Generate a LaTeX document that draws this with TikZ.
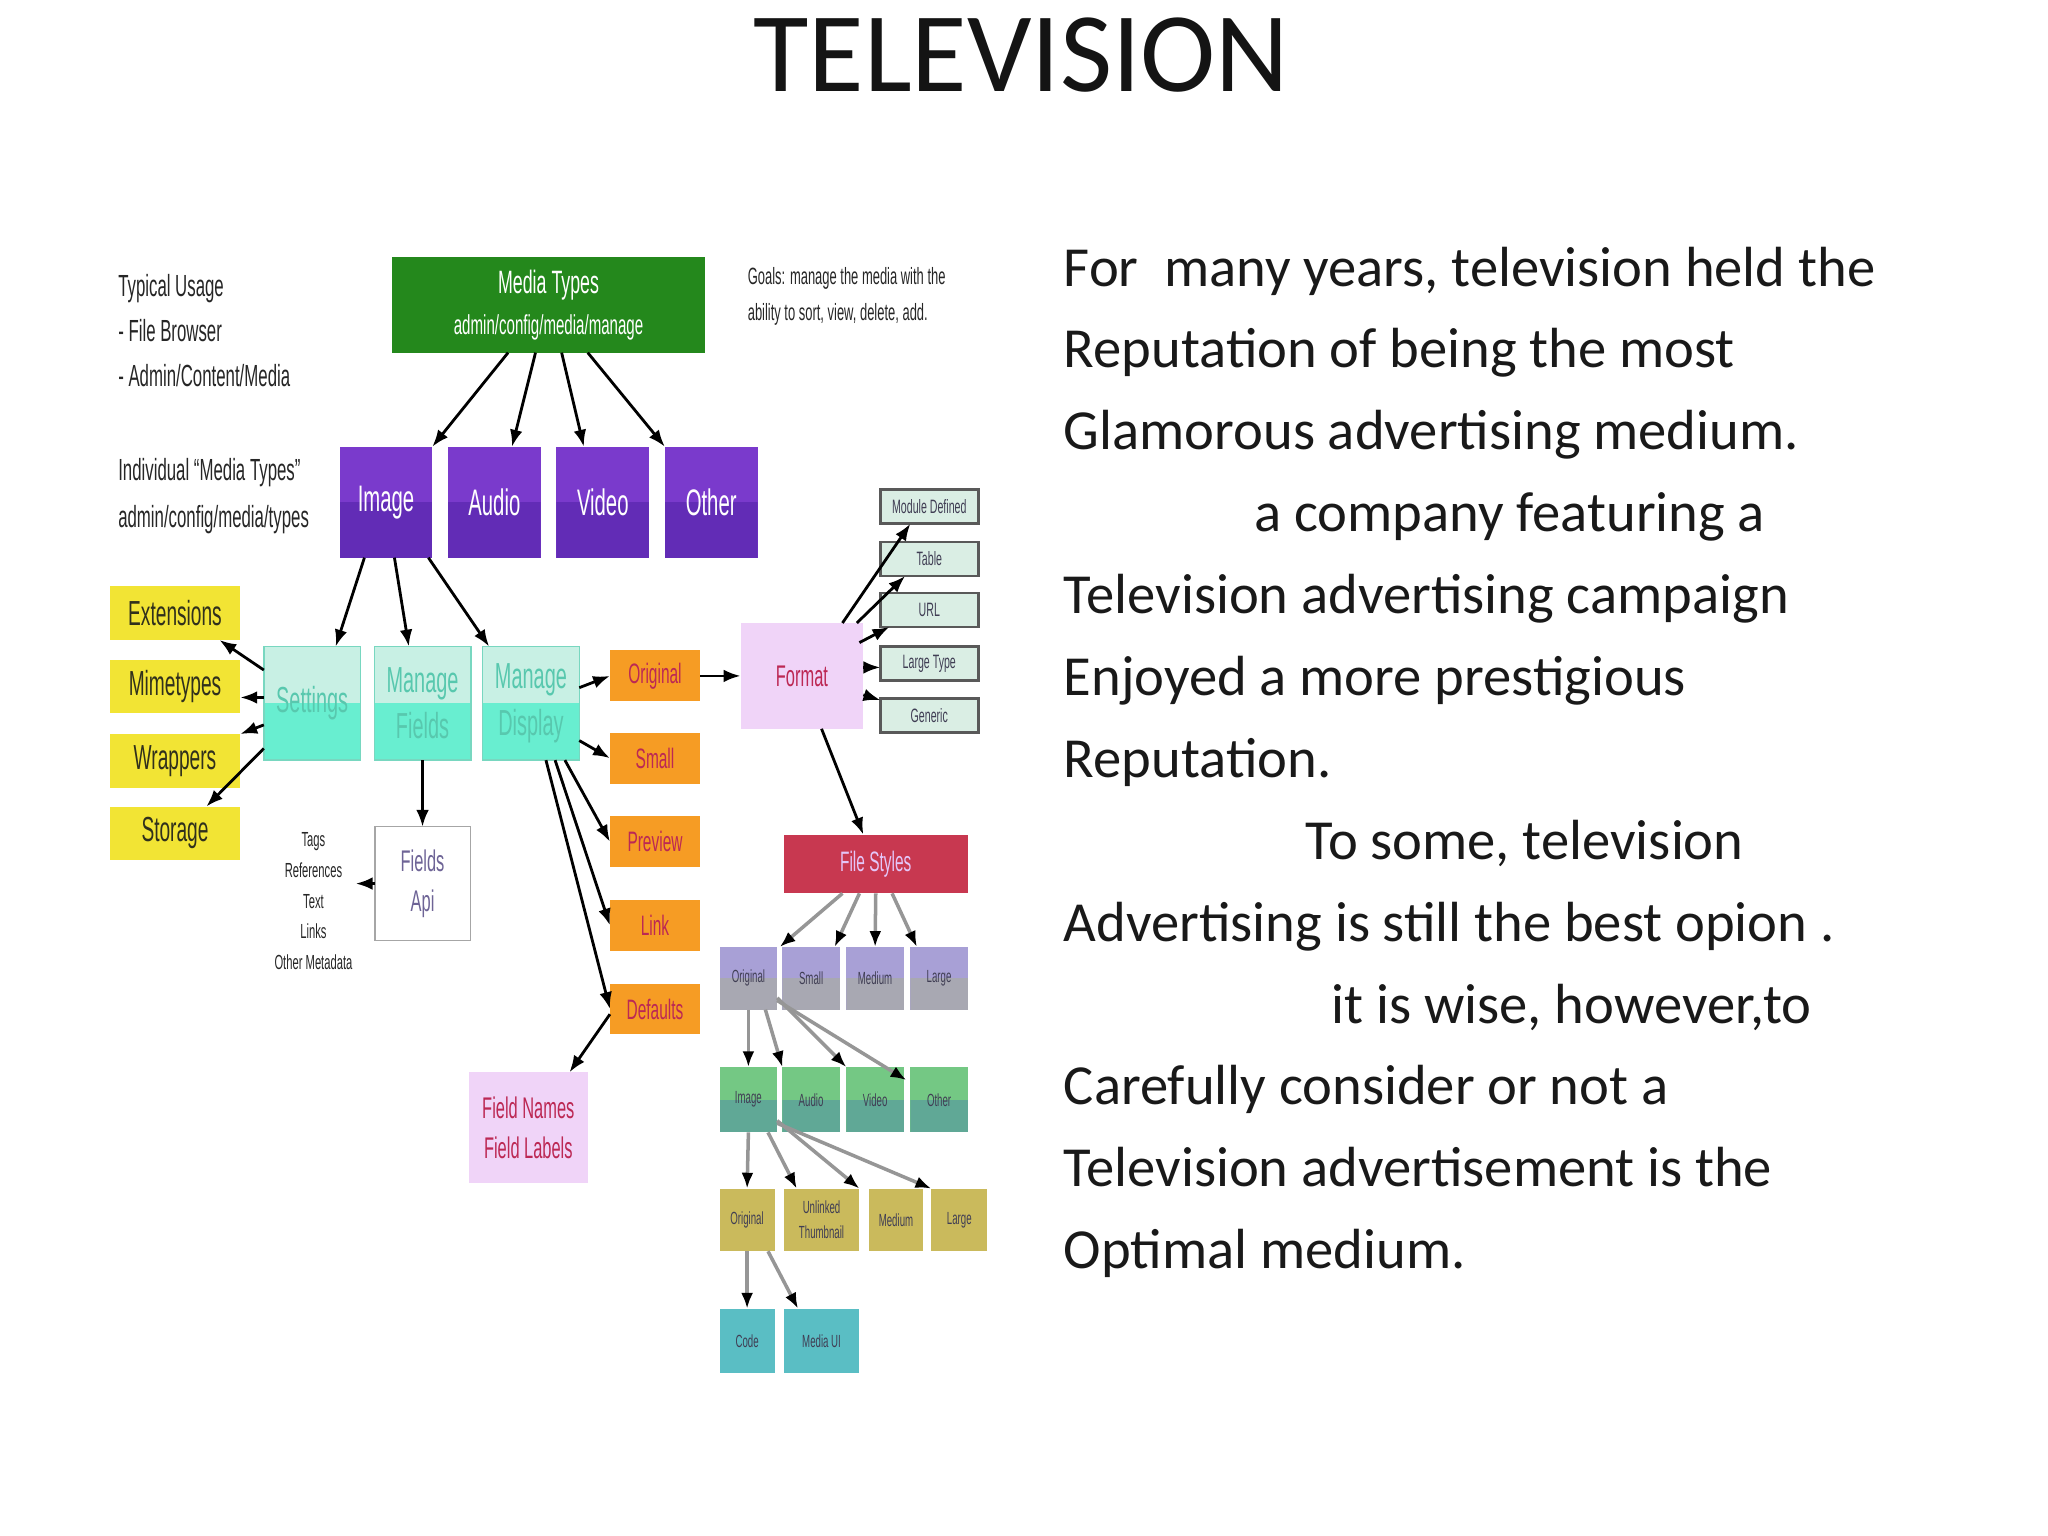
\documentclass[tikz,border=0pt]{standalone}
\usepackage{fontspec}
\setmainfont{Carlito}
\newfontfamily\diagfont[FakeStretch=0.55]{Liberation Sans}
\usetikzlibrary{positioning,arrows.meta,calc}
\def\dpx{0.013061cm}
\definecolor{mediagreen}{RGB}{36,136,28}
\definecolor{typetop}{RGB}{122,58,204}
\definecolor{typebot}{RGB}{98,44,182}
\definecolor{aquatop}{RGB}{200,240,228}
\definecolor{aquabot}{RGB}{104,238,208}
\definecolor{aquatext}{RGB}{88,200,174}
\definecolor{aquaedge}{RGB}{120,215,192}
\definecolor{extyellow}{RGB}{242,228,52}
\definecolor{exttext}{RGB}{48,48,28}
\definecolor{disporange}{RGB}{246,156,36}
\definecolor{crimsontext}{RGB}{188,40,84}
\definecolor{formatpink}{RGB}{240,212,248}
\definecolor{stylered}{RGB}{200,56,80}
\definecolor{styletext}{RGB}{228,198,248}
\definecolor{sizetop}{RGB}{168,160,214}
\definecolor{sizebot}{RGB}{168,168,178}
\definecolor{kindtop}{RGB}{116,200,132}
\definecolor{kindbot}{RGB}{96,168,150}
\definecolor{presetolive}{RGB}{202,186,92}
\definecolor{codeteal}{RGB}{90,190,196}
\definecolor{plaintext}{RGB}{64,62,84}
\definecolor{apitext}{RGB}{110,100,150}
\definecolor{mintfill}{RGB}{218,238,228}
\definecolor{lightline}{RGB}{150,150,150}
\tikzset{
  flowarrow/.style={-{Latex[length=4.8pt,width=3.6pt]}, line width=0.8pt},
  greyarrow/.style={-{Latex[length=4.5pt,width=3.4pt,color=black]}, line width=1pt, draw=lightline},
  boxsize/.style 2 args={minimum width=#1*\dpx, minimum height=#2*\dpx},
  lowhalf/.style={path picture={\fill[#1] (path picture bounding box.west) rectangle (path picture bounding box.south east);}},
  basebox/.style={inner sep=0pt, outer sep=0pt, align=center, font=\diagfont},
  mediabox/.style={basebox, fill=mediagreen, text=white, font=\diagfont\fontsize{9.2}{11}\selectfont},
  typebox/.style={basebox, boxsize={71}{85}, fill=typetop, lowhalf=typebot, text=white, font=\diagfont\fontsize{10.5}{12}\selectfont},
  pagebox/.style={basebox, boxsize={74}{87}, draw=aquaedge, fill=aquatop, lowhalf=aquabot, text=aquatext, font=\diagfont\fontsize{10.3}{13.3}\selectfont},
  sidebox/.style={basebox, boxsize={100}{41}, fill=extyellow, text=exttext, font=\diagfont\fontsize{9.9}{11}\selectfont},
  dispbox/.style={basebox, boxsize={69}{39}, fill=disporange, text=crimsontext, font=\diagfont\fontsize{8}{9}\selectfont},
  formatbox/.style={basebox, fill=formatpink, text=crimsontext, font=\diagfont\fontsize{8.5}{11}\selectfont},
  kindbox/.style={basebox, boxsize={75}{26}, fill=mintfill, draw=black!65, line width=0.8pt, text=plaintext, font=\diagfont\fontsize{5.5}{6}\selectfont},
  stylebox/.style={basebox, boxsize={141}{45}, fill=stylered, text=styletext, font=\diagfont\fontsize{8}{9}\selectfont},
  apibox/.style={basebox, boxsize={73}{87}, fill=white, draw=black!35, text=apitext, font=\diagfont\fontsize{8.5}{11.5}\selectfont},
  sizebox/.style={basebox, boxsize={44}{48}, fill=sizetop, lowhalf=sizebot, text=plaintext, font=\diagfont\fontsize{5}{6}\selectfont},
  mtypebox/.style={basebox, boxsize={44}{50}, fill=kindtop, lowhalf=kindbot, text=plaintext, font=\diagfont\fontsize{5}{6}\selectfont},
  presetbox/.style={basebox, fill=presetolive, text=plaintext, font=\diagfont\fontsize{5}{7}\selectfont},
  codebox/.style={basebox, fill=codeteal, text=plaintext, font=\diagfont\fontsize{5}{6}\selectfont},
  note/.style={inner sep=0pt, text=black!85},
  slide/.style={inner sep=0pt, anchor=base west, text=black!90, font=\fontsize{16.1}{19}\selectfont}
}
\begin{document}
\begin{tikzpicture}[x=\dpx, y=-\dpx]
  \useasboundingbox (0,0) rectangle (1568,1176);
  \node[anchor=base, inner sep=0pt, text=black!92, font=\fontsize{32.3}{38}\selectfont] (title) at (782,70) {TELEVISION};

  \node[note, anchor=west, align=left, font=\diagfont\fontsize{8.7}{12.8}\selectfont] (usage) at (90,253) {Typical Usage\\- File Browser\\- Admin/Content/Media};
  \node[note, anchor=west, align=left, font=\diagfont\fontsize{8.7}{13.4}\selectfont] (indiv) at (90,380) {Individual “Media Types”\\admin/config/media/types};
  \node[note, anchor=west, align=left, font=\diagfont\fontsize{6.7}{10.4}\selectfont] (goals) at (572,227) {Goals: manage the media with the\\ability to sort, view, delete, add.};

  \node[mediabox, boxsize={240}{73}] (media) at (420,233.5) {Media Types\\[0.5pt]{\fontsize{7.8}{9}\selectfont admin/config/media/manage}};
  \node[typebox] (image) at (295.5,384.5) {Image};
  \node[typebox] (audio) at (378.5,384.5) {Audio};
  \node[typebox] (video) at (461.5,384.5) {Video};
  \node[typebox] (other) at (544.5,384.5) {Other};

  \node[pagebox] (settings) at (239,538.5) {Settings};
  \node[pagebox] (fields) at (323.5,538.5) {Manage\\Fields};
  \node[pagebox] (display) at (406.5,538.5) {Manage\\Display};

  \node[sidebox] (ext) at (134,469.5) {Extensions};
  \node[sidebox] (mime) at (134,525.5) {Mimetypes};
  \node[sidebox] (wrap) at (134,582.5) {Wrappers};
  \node[sidebox] (store) at (134,638) {Storage};

  \node[apibox] (api) at (323.5,676.5) {Fields\\Api};
  \node[note, align=center, font=\diagfont\fontsize{5.8}{8.7}\selectfont] (tags) at (240,690) {Tags\\References\\Text\\Links\\Other Metadata};

  \node[dispbox] (orig) at (501.5,517.5) {Original};
  \node[dispbox] (small) at (501.5,580.5) {Small};
  \node[dispbox] (preview) at (501.5,644.5) {Preview};
  \node[dispbox] (link) at (501.5,708.5) {Link};
  \node[dispbox] (defaults) at (501.5,772.5) {Defaults};

  \node[formatbox, boxsize={94}{81}] (format) at (614,517.5) {Format};
  \node[kindbox] (kdefined) at (711.5,388) {Module Defined};
  \node[kindbox] (ktable) at (711.5,428) {Table};
  \node[kindbox] (kurl) at (711.5,467) {URL};
  \node[kindbox] (klarge) at (711.5,508) {Large Type};
  \node[kindbox] (kgeneric) at (711.5,548) {Generic};

  \node[formatbox, boxsize={91}{85}, font=\diagfont\fontsize{8.5}{11.5}\selectfont] (names) at (404.5,863.5) {Field Names\\Field Labels};

  \node[stylebox] (styles) at (670.5,661.5) {File Styles};
  \node[sizebox] (sorig) at (573,749) {Original};
  \node[sizebox] (ssmall) at (621,749) {Small};
  \node[sizebox] (smed) at (670,749) {Medium};
  \node[sizebox] (slarge) at (719,749) {Large};

  \node[mtypebox] (kimg) at (573,842) {Image};
  \node[mtypebox] (kaud) at (621,842) {Audio};
  \node[mtypebox] (kvid) at (670,842) {Video};
  \node[mtypebox] (koth) at (719,842) {Other};

  \node[presetbox, boxsize={42}{48}] (porig) at (572,934) {Original};
  \node[presetbox, boxsize={58}{48}] (pthumb) at (629,934) {Unlinked\\Thumbnail};
  \node[presetbox, boxsize={42}{48}] (pmed) at (686,934) {Medium};
  \node[presetbox, boxsize={43}{48}] (plarge) at (734.5,934) {Large};

  \node[codebox, boxsize={42}{49}] (ccode) at (572,1026.5) {Code};
  \node[codebox, boxsize={58}{49}] (cui) at (629,1026.5) {Media UI};

  \draw[flowarrow] ($(media.south)+(-31,0)$) -- (image.north east);
  \draw[flowarrow] ($(media.south)+(-10,0)$) -- ($(audio.north)+(13.5,0)$);
  \draw[flowarrow] ($(media.south)+(10,0)$) -- ($(video.north)+(-14.5,0)$);
  \draw[flowarrow] ($(media.south)+(30,0)$) -- (other.north west);
  \draw[flowarrow] ($(image.south)+(-16.5,0)$) -- ($(settings.north)+(18,0)$);
  \draw[flowarrow] ($(image.south)+(6.5,0)$) -- ($(fields.north)+(-10.5,0)$);
  \draw[flowarrow] ($(image.south east)+(-3,0)$) -- ($(display.north west)+(5,0)$);
  \draw[flowarrow] ($(settings.west)+(0,-25.5)$) -- ($(ext.south east)+(-16,0)$);
  \draw[flowarrow] ($(settings.west)+(0,-4.5)$) -- ($(mime.east)+(0,8.5)$);
  \draw[flowarrow] ($(settings.west)+(0,16.5)$) -- (wrap.north east);
  \draw[flowarrow] ($(settings.west)+(0,34.5)$) -- ($(store.north)+(24,0)$);
  \draw[flowarrow] (fields.south) -- (api.north);
  \draw[flowarrow] (api.west) -- ($(api.west -| tags.east)+(2,0)$);

  \draw[flowarrow] ($(display.east)+(0,-12)$) -- (orig.west);
  \draw[flowarrow] ($(display.east)+(0,28.5)$) -- (small.west);
  \draw[flowarrow] ($(display.south east)+(-11,0)$) -- (preview.west);
  \draw[flowarrow] ($(display.south)+(18.5,0)$) -- (link.west);
  \draw[flowarrow] ($(display.south)+(11.5,0)$) -- (defaults.west);
  \draw[flowarrow] ($(defaults.west)+(0,4)$) -- ($(names.north east)+(-14,0)$);

  \draw[flowarrow] (orig) -- (format);
  \draw[flowarrow] ($(format.north east)+(-16,0)$) -- ($(kdefined.south)+(-14.5,0)$);
  \draw[flowarrow] ($(format.north east)+(-5,0)$) -- ($(ktable.south)+(-18.5,0)$);
  \draw[flowarrow] ($(format.east)+(-3,-25.5)$) -- ($(kurl.south)+(-30.5,0)$);
  \draw[flowarrow] ($(format.east)+(0,-6.5)$) -- ($(klarge.west)+(0,3)$);
  \draw[flowarrow] ($(format.east)+(0,14.5)$) -- ($(kgeneric.west)+(0,-12)$);
  \draw[flowarrow] ($(format.south)+(15,0)$) -- ($(styles.north)+(-9.5,0)$);

  \draw[greyarrow] ($(styles.south)+(-25.5,0)$) -- ($(sorig.north east)+(2,0)$);
  \draw[greyarrow] ($(styles.south)+(-12.5,0)$) -- ($(ssmall.north)+(18,0)$);
  \draw[greyarrow] (styles.south) -- (smed.north);
  \draw[greyarrow] ($(styles.south)+(12.5,0)$) -- ($(slarge.north)+(-17,0)$);

  \draw[greyarrow] (sorig.south) -- (kimg.north);
  \draw[greyarrow] ($(sorig.south)+(13,0)$) -- (kaud.north west);
  \draw[greyarrow] ($(sorig.east)+(0,15)$) -- (kvid.north west);
  \draw[greyarrow] ($(sorig.east)+(0,17)$) -- ($(koth.north west)+(-3,10)$);

  \draw[greyarrow] (kimg.south) -- (porig.north);
  \draw[greyarrow] ($(kimg.south)+(15,0)$) -- ($(pthumb.north west)+(10,0)$);
  \draw[greyarrow] ($(kimg.east)+(0,16)$) -- (pthumb.north east);
  \draw[greyarrow] ($(kimg.east)+(0,18)$) -- (plarge.north west);

  \draw[greyarrow] (porig.south) -- (ccode.north);
  \draw[greyarrow] ($(porig.south)+(16,0)$) -- ($(cui.north west)+(11,0)$);

  \node[slide] (t1) at (814,219) {For\ \ many years, television held the};
  \node[slide] (t2) at (814,281.7) {Reputation of being the most};
  \node[slide] (t3) at (814,344.4) {Glamorous advertising medium.};
  \node[slide] (t4) at (960,407.1) {a company featuring a};
  \node[slide] (t5) at (814,469.8) {Television advertising campaign};
  \node[slide] (t6) at (814,532.5) {Enjoyed a more prestigious};
  \node[slide] (t7) at (814,595.2) {Reputation.};
  \node[slide] (t8) at (999,657.9) {To some, television};
  \node[slide] (t9) at (814,720.6) {Advertising is still the best opion .};
  \node[slide] (t10) at (1019,783.3) {it is wise, however,to};
  \node[slide] (t11) at (814,846) {Carefully consider or not a};
  \node[slide] (t12) at (814,908.7) {Television advertisement is the};
  \node[slide] (t13) at (814,971.4) {Optimal medium.};
\end{tikzpicture}
\end{document}
